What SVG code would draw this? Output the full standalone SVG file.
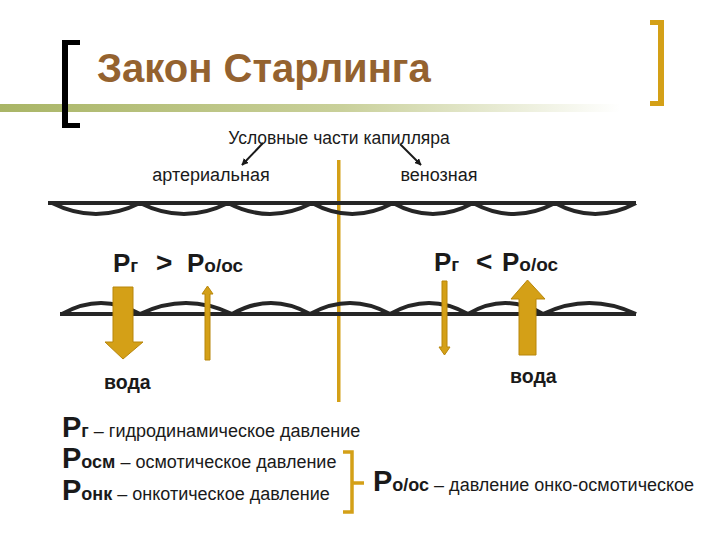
<svg xmlns="http://www.w3.org/2000/svg" width="720" height="540" viewBox="0 0 720 540">
<defs>
<linearGradient id="bar" x1="0" y1="0" x2="1" y2="0">
<stop offset="0" stop-color="#A9B566"/>
<stop offset="0.55" stop-color="#C9D09A"/>
<stop offset="1" stop-color="#FFFFFF"/>
</linearGradient>
<marker id="ah" viewBox="0 0 10 10" refX="9" refY="5" markerWidth="7" markerHeight="7" orient="auto" markerUnits="userSpaceOnUse">
<path d="M0,0 L10,5 L0,10 z" fill="#1a1a1a"/>
</marker>
<style>
text{font-family:"Liberation Sans",Arial,sans-serif;fill:#1a1a1a}
.b{font-weight:bold}
.wall{fill:none;stroke:#262626;stroke-width:4;stroke-linejoin:round}
.arr{fill:#D4A017;stroke:#B8860B;stroke-width:1}
</style>
</defs>
<rect width="720" height="540" fill="#fff"/>
<g id="header">
<rect x="0" y="104" width="620" height="8" fill="url(#bar)"/>
<path d="M80,40 H62 V128 H80 V123 H68 V45 H80 Z" fill="#000"/>
<path d="M650,20 H664 V106 H650 V101 H658 V25 H650 Z" fill="#D4A017"/>
<text x="97" y="82" class="b" font-size="40" style="fill:#94622F">Закон Старлинга</text>
</g>
<g id="parts-label">
<text x="339" y="144" font-size="17.5" text-anchor="middle">Условные части капилляра</text>
</g>
<g id="arterial">
<text x="211" y="181" font-size="18" text-anchor="middle">артериальная</text>
</g>
<g id="venous">
<text x="439" y="181" font-size="18" text-anchor="middle">венозная</text>
</g>
<g id="connectors">
<line x1="263" y1="143" x2="242" y2="165" stroke="#1a1a1a" stroke-width="2" marker-end="url(#ah)"/>
<line x1="400" y1="144" x2="421" y2="165" stroke="#1a1a1a" stroke-width="2" marker-end="url(#ah)"/>
</g>
<g id="divider">
<rect x="337" y="160" width="3.5" height="242" fill="#D4A017"/>
</g>
<g id="top-wall">
<path class="wall" d="M48,203 H636 M52,203 Q96,225 140,203 Q184,225 228,203 Q270,225 312,203 Q352,225 393,203 Q433,225 473,203 Q514,225 555,203 Q595,225 636,203"/>
</g>
<g id="bottom-wall">
<path class="wall" d="M60,314 H636 M62,314 Q101,292 140,314 Q186,292 232,314 Q271,292 310,314 Q350,292 390,314 Q429,292 468,314 Q505,292 543,314 Q589,292 636,314"/>
</g>
<g id="left-relation">
<text x="113" y="272" class="b" font-size="26">Р<tspan font-size="19">г</tspan></text>
<text x="156" y="272" class="b" font-size="28">&gt;</text>
<text x="187" y="272" class="b" font-size="26">Р<tspan font-size="19">о/ос</tspan></text>
</g>
<g id="right-relation">
<text x="434" y="271" class="b" font-size="26">Р<tspan font-size="19">г</tspan></text>
<text x="476" y="271" class="b" font-size="28">&lt;</text>
<text x="502" y="271" class="b" font-size="26">Р<tspan font-size="19">о/ос</tspan></text>
</g>
<g id="left-arrows">
<polygon class="arr" points="113,287 133,287 133,342 143,342 123,359 105,342 113,342"/>
<polygon class="arr" points="205,294 202,294 207.5,286 213,294 210,294 210,360 205,360"/>
</g>
<g id="right-arrows">
<polygon class="arr" points="442,281 447,281 447,347 450,347 444.5,355 439,347 442,347"/>
<polygon class="arr" points="519,355 519,299 511,299 527.5,280 545,299 536,299 536,355"/>
</g>
<g id="water-left">
<text x="104" y="389" class="b" font-size="19.5">вода</text>
</g>
<g id="water-right">
<text x="510" y="383" class="b" font-size="19.5">вода</text>
</g>
<g id="legend">
<text x="62" y="437" font-size="18"><tspan class="b" font-size="29">Р</tspan><tspan class="b">г</tspan> – гидродинамическое давление</text>
<text x="62" y="468" font-size="18"><tspan class="b" font-size="29">Р</tspan><tspan class="b">осм</tspan> – осмотическое давление</text>
<text x="62" y="500" font-size="18"><tspan class="b" font-size="29">Р</tspan><tspan class="b">онк</tspan> – онкотическое давление</text>
</g>
<g id="brace">
<path d="M343,452 H352 V512 H343 M352,483 H364" fill="none" stroke="#D4A017" stroke-width="3.5"/>
</g>
<g id="legend-right">
<text x="373" y="491" font-size="18"><tspan class="b" font-size="29">Р</tspan><tspan class="b">о/ос</tspan> – давление онко-осмотическое</text>
</g>
</svg>
